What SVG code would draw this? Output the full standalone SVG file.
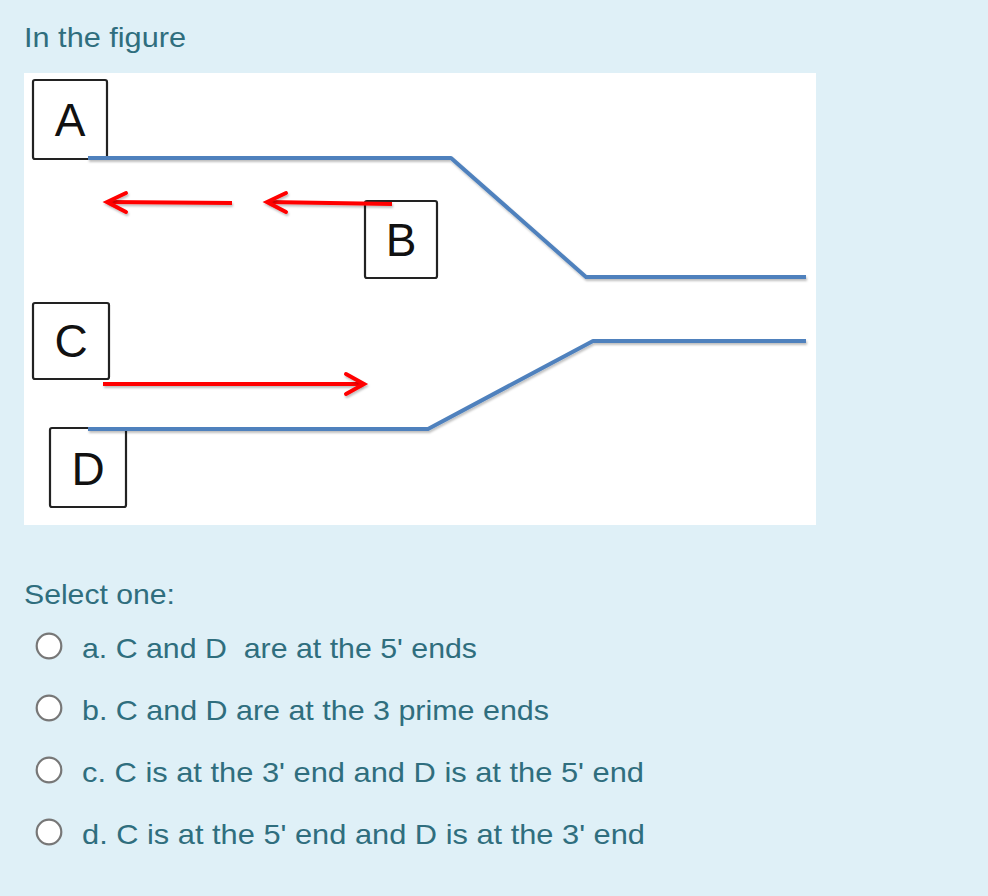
<svg xmlns="http://www.w3.org/2000/svg" width="988" height="896" viewBox="0 0 988 896">
  <style>
    .txt { font-family: "Liberation Sans", Arial, sans-serif; font-size: 28px; fill: #2f6e7e; }
    .lbl { font-family: "Liberation Sans", Arial, sans-serif; font-size: 46px; fill: #111; text-anchor: middle; }
    .box { fill: none; stroke: #222; stroke-width: 2.2; }
    .strand { fill: none; stroke: #4f81bd; stroke-width: 4; stroke-linejoin: round; filter: url(#sh); }
    .arrow { fill: none; stroke: #ff0000; stroke-width: 4; filter: url(#sh); }
    .head { fill: none; stroke: #ff0000; stroke-width: 4; stroke-linecap: round; stroke-linejoin: miter; filter: url(#sh); }
    .radio { fill: #fff; stroke: #777; stroke-width: 2.2; }
  </style>
  <defs>
    <filter id="sh" filterUnits="userSpaceOnUse" x="0" y="0" width="988" height="896">
      <feDropShadow dx="1" dy="2" stdDeviation="1.2" flood-color="#000" flood-opacity="0.25"/>
    </filter>
  </defs>
  <rect x="0" y="0" width="988" height="896" fill="#dff0f7"/>
  <text class="txt" x="24" y="47" textLength="162" lengthAdjust="spacingAndGlyphs">In the figure</text>
  <rect x="24" y="73" width="792" height="452" fill="#fff"/>

  <g id="node-A">
    <rect class="box" x="33" y="80" width="74" height="79" rx="2"/>
    <text class="lbl" x="70" y="136">A</text>
  </g>
  <g id="node-B">
    <rect class="box" x="365" y="201" width="72" height="77" rx="2"/>
    <text class="lbl" x="401" y="256">B</text>
  </g>
  <g id="node-C">
    <rect class="box" x="33" y="303" width="76" height="76" rx="2"/>
    <text class="lbl" x="71" y="357">C</text>
  </g>
  <g id="node-D">
    <rect class="box" x="50" y="428" width="76" height="79" rx="2"/>
    <text class="lbl" x="88" y="485">D</text>
  </g>

  <g id="connectors">
    <polyline class="strand" points="88,158 451,158 586,277 806,277"/>
    <polyline class="strand" points="88,429 428,429 593,341 806,341"/>
    <line class="arrow" x1="108" y1="202" x2="232" y2="203"/>
    <polyline class="head" points="126,193 107,202 126,212"/>
    <line class="arrow" x1="268" y1="202" x2="392" y2="204"/>
    <polyline class="head" points="286,193 267,202 286,212"/>
    <line class="arrow" x1="103" y1="384" x2="362" y2="384"/>
    <polyline class="head" points="346,374 364,384 346,394"/>
  </g>

  <text class="txt" x="24" y="604" textLength="151" lengthAdjust="spacingAndGlyphs">Select one:</text>

  <g id="option-a">
    <circle class="radio" cx="49" cy="646" r="12.3"/>
    <text class="txt" x="82" y="658" textLength="395" lengthAdjust="spacingAndGlyphs" xml:space="preserve">a. C and D  are at the 5' ends</text>
  </g>
  <g id="option-b">
    <circle class="radio" cx="49" cy="708" r="12.3"/>
    <text class="txt" x="82" y="720" textLength="467" lengthAdjust="spacingAndGlyphs">b. C and D are at the 3 prime ends</text>
  </g>
  <g id="option-c">
    <circle class="radio" cx="49" cy="770" r="12.3"/>
    <text class="txt" x="82" y="782" textLength="562" lengthAdjust="spacingAndGlyphs">c. C is at the 3' end and D is at the 5' end</text>
  </g>
  <g id="option-d">
    <circle class="radio" cx="49" cy="832" r="12.3"/>
    <text class="txt" x="82" y="844" textLength="563" lengthAdjust="spacingAndGlyphs">d. C is at the 5' end and D is at the 3' end</text>
  </g>
</svg>
